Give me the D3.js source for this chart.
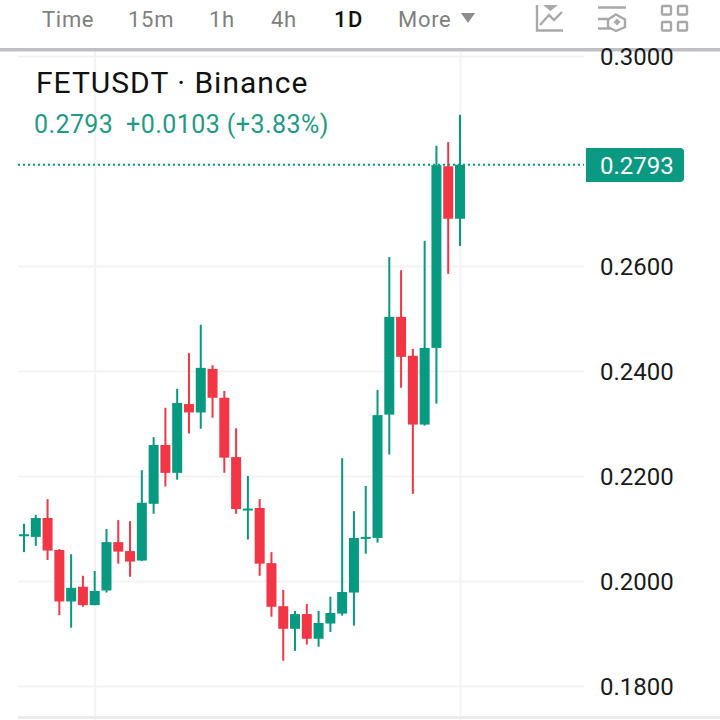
<!DOCTYPE html>
<html>
<head>
<meta charset="utf-8">
<script src="https://cdn.jsdelivr.net/npm/d3@7"></script>
<style>
  html, body { margin: 0; padding: 0; background: #fff; }
  svg { display: block; }
  text { font-family: Roboto, sans-serif; }
</style>
</head>
<body>
<div id="chart"></div>
<script>
// daily candles
var opens  = [.2088,.2084,.2120,.2059,.1961,.1989,.1954,.1982,.2074,.2057,.2039,.2147,.2259,.2206,.2337,.2321,.2404,.2349,.2236,.2137,.2139,.2034,.1952,.1909,.1937,.1890,.1919,.1938,.1978,.2083,.2082,.2317,.2503,.2429,.2298,.2444,.2790,.2690];
var highs  = [.2109,.2126,.2156,.2061,.2051,.2010,.2019,.2099,.2116,.2114,.2211,.2274,.2330,.2366,.2434,.2488,.2411,.2362,.2291,.2200,.2156,.2055,.1983,.1943,.1956,.1943,.1970,.2234,.2133,.2181,.2364,.2617,.2592,.2442,.2648,.2829,.2836,.2888];
var lows   = [.2055,.2067,.2040,.1935,.1911,.1951,.1954,.1978,.2033,.2008,.2038,.2128,.2180,.2193,.2281,.2290,.2311,.2206,.2128,.2079,.2010,.1932,.1848,.1867,.1879,.1875,.1903,.1934,.1915,.2052,.2073,.2241,.2368,.2166,.2296,.2338,.2585,.2638];
var closes = [.2089,.2120,.2058,.1961,.1987,.1954,.1981,.2074,.2056,.2037,.2149,.2259,.2206,.2339,.2321,.2406,.2349,.2235,.2137,.2138,.2033,.1951,.1909,.1937,.1890,.1920,.1939,.1979,.2082,.2084,.2316,.2503,.2427,.2298,.2444,.2792,.2690,.2793];
var priceTicks = [0.18, 0.20, 0.22, 0.24, 0.26, 0.30];
var dayTicks = [6, 37];
var tabs = ["Time", "15m", "1h", "4h", "1D", "More"];
var tabX = [42, 128, 209, 271, 334, 398];
var lastPrice = 0.2793;

var width = 720, height = 720;
var green = "#089981", red = "#f23645", grid = "#f3f3f4";

var svg = d3.select("#chart").append("svg")
    .attr("width", width)
    .attr("height", height);

var xScale = d3.scaleLinear().domain([0, 37]).range([24, 460]);
var yScale = d3.scaleLinear().domain([0.18, 0.30]).range([686, 56]);

// top toolbar
svg.append("rect").attr("x", 0).attr("y", 48).attr("width", width).attr("height", 3.5).attr("fill", "#bfc0c4");
svg.append("g").selectAll("text")
    .data(tabs).enter().append("text")
    .attr("x", function(d, i) { return tabX[i]; })
    .attr("y", 27)
    .attr("font-size", 22)
    .attr("letter-spacing", function(d) { return d == "1D" ? 1.5 : 0.7; })
    .attr("font-weight", function(d) { return d == "1D" ? 500 : 400; })
    .attr("fill", function(d) { return d == "1D" ? "#111" : "#808080"; })
    .text(function(d) { return d; });
svg.append("path").attr("d", "M461,13H475L468,23Z").attr("fill", "#8c8c8c");

// toolbar icons
var icons = svg.append("g").attr("fill", "none").attr("stroke", "#a9a9a9").attr("stroke-width", 2.4);
icons.append("path").attr("d", "M537,5V30.5H563M540,25L549,15L554,20L562,12");
icons.append("path").attr("d", "M543,5H558L550.5,11Z").attr("fill", "#a9a9a9").attr("stroke", "none");
icons.append("path").attr("d", "M598,7.5H626M598,19H610M598,28.5H610M616,14.5L625,19.5V27L616,31L608,27V19.5Z");
icons.append("path").attr("d", "M617,18.5L620.5,22L617,25.5L613.5,22Z").attr("fill", "#a9a9a9").attr("stroke", "none");
[[662, 6], [678, 6], [662, 22], [678, 22]].forEach(function(p) {
  icons.append("rect").attr("x", p[0]).attr("y", p[1]).attr("width", 9).attr("height", 8.5).attr("rx", 1);
});

// grid + axes
var xAxis = d3.axisBottom(xScale).tickValues(dayTicks).tickSize(-668).tickFormat("");
var xg = svg.append("g").attr("transform", "translate(0,720)").call(xAxis);
xg.select(".domain").remove();
xg.selectAll("line").attr("stroke", grid).attr("stroke-width", 2);

var yAxis = d3.axisRight(yScale)
    .tickValues(priceTicks)
    .tickSize(566)
    .tickPadding(16)
    .tickFormat(d3.format(".4f"));
var yg = svg.append("g").attr("transform", "translate(18,0)").call(yAxis);
yg.select(".domain").remove();
yg.selectAll("line").attr("stroke", grid).attr("stroke-width", 2);
yg.selectAll("text")
    .attr("fill", "#1a1a1a")
    .attr("font-size", 24)
    .attr("dy", "0.34em")
    .attr("style", "font-family:Roboto,sans-serif");

// bottom border of the pane
svg.append("rect").attr("x", 18).attr("y", 716).attr("width", 702).attr("height", 3).attr("fill", "#ececed");

// candles
var candles = d3.range(closes.length);
function colour(i) { return closes[i] >= opens[i] ? green : red; }

svg.append("g").selectAll("rect")
    .data(candles).enter().append("rect")
    .attr("x", function(i) { return xScale(i) - 1; })
    .attr("width", 2)
    .attr("y", function(i) { return yScale(highs[i]); })
    .attr("height", function(i) { return yScale(lows[i]) - yScale(highs[i]); })
    .attr("fill", colour);

svg.append("g").selectAll("rect")
    .data(candles).enter().append("rect")
    .attr("x", function(i) { return xScale(i) - 5; })
    .attr("width", 10)
    .attr("y", function(i) { return yScale(Math.max(opens[i], closes[i])); })
    .attr("height", function(i) { return Math.max(2, Math.abs(yScale(opens[i]) - yScale(closes[i]))); })
    .attr("fill", colour);

// last price line + tag
svg.append("line")
    .attr("x1", 18).attr("x2", 584)
    .attr("y1", yScale(lastPrice)).attr("y2", yScale(lastPrice))
    .attr("stroke", green).attr("stroke-width", 2)
    .attr("stroke-dasharray", "2 3");
svg.append("path")
    .attr("d", "M586,148H680a4,4 0 0 1 4,4V178a4,4 0 0 1 -4,4H586Z")
    .attr("fill", "#0a9981");
svg.append("text")
    .attr("x", 600).attr("y", 173.5)
    .attr("font-size", 24).attr("fill", "#fff")
    .text(d3.format(".4f")(lastPrice));

// legend
svg.append("text")
    .attr("x", 36).attr("y", 93)
    .attr("font-size", 30).attr("letter-spacing", 1).attr("fill", "#111")
    .text("FETUSDT · Binance");
svg.append("text")
    .attr("x", 34).attr("y", 132.5)
    .attr("font-size", 25).attr("letter-spacing", 0.4).attr("fill", "#1f9a85")
    .text("0.2793");
svg.append("text")
    .attr("x", 126).attr("y", 132.5)
    .attr("font-size", 25).attr("letter-spacing", 0.45).attr("fill", "#1f9a85")
    .text("+0.0103 (+3.83%)");
</script>
</body>
</html>
